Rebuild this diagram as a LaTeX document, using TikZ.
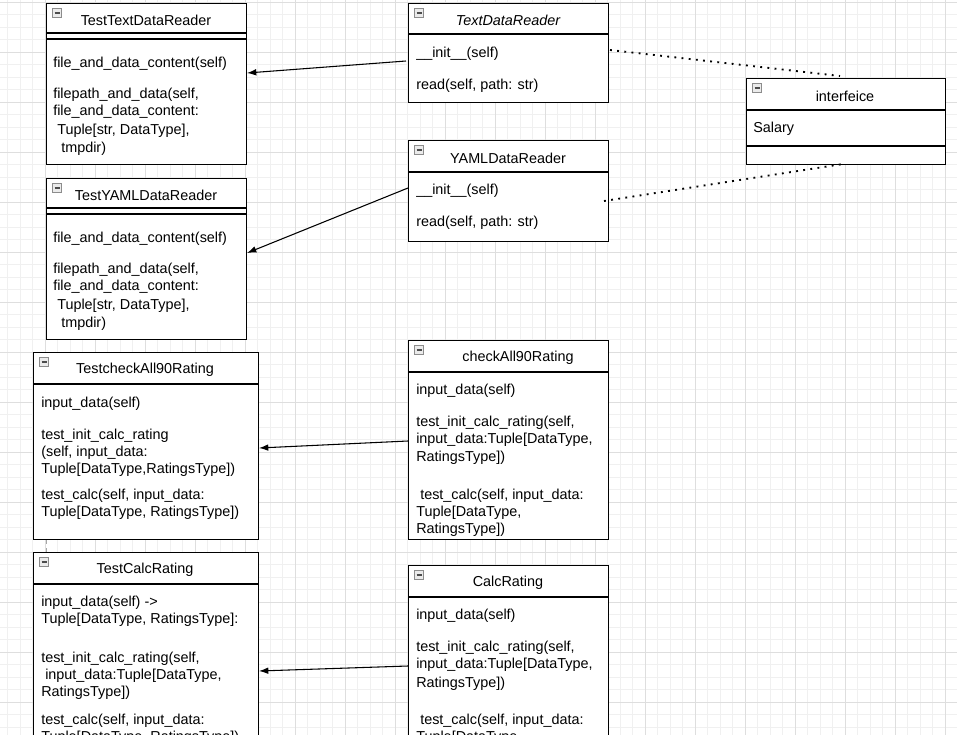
\documentclass[tikz,border=0pt]{standalone}
\usepackage{fontspec}
\setmainfont{Liberation Sans}
\usetikzlibrary{arrows.meta}
\begin{document}
\begin{tikzpicture}[x=0.75pt,y=-0.75pt,
  box/.style={draw=black,line width=0.9pt,fill=white,anchor=north west,inner sep=0pt},
  t/.style={anchor=west,inner sep=0pt,yshift=-1.5pt,font=\fontsize{10.8}{12}\selectfont},
  hdr/.style={anchor=center,inner sep=0pt,yshift=-1.5pt,font=\fontsize{10.8}{12}\selectfont},
  sep/.style={line width=0.9pt},
  arr/.style={-{Latex[length=7pt,width=5pt]},line width=0.8pt},
  dot/.style={line width=1.4pt,dash pattern=on 1.4pt off 4pt}]
\useasboundingbox (0,0) rectangle (957,735);
\fill[white] (0,0) rectangle (957,735);
\foreach \i in {0,...,77} {
  \draw[black!6,line width=0.4pt] (\i*12.5-5,0) -- (\i*12.5-5,735);}
\foreach \i in {0,...,59} {
  \draw[black!6,line width=0.4pt] (0,\i*12.5+2) -- (957,\i*12.5+2);}
\foreach \i in {0,...,19} {
  \draw[black!13,line width=0.5pt] (\i*50-5,0) -- (\i*50-5,735);}
\foreach \i in {0,...,14} {
  \draw[black!13,line width=0.5pt] (0,\i*50+2) -- (957,\i*50+2);}
\draw[black!35,dashed,line width=0.6pt] (46,540) -- (46,735);
\newcommand\ubox[6]{% name x y w h headerbottom
  \node[box,minimum width=#4*0.75pt,minimum height=#5*0.75pt] (#1) at (#2,#3) {};
  \draw[sep] (#2,#6) -- ++(#4,0);
  \fill[black!45] (#2+6,#3+5) rectangle ++(10,10);
  \fill[black!8] (#2+7,#3+6) rectangle ++(8,8);
  \draw[black!70,line width=0.8pt] (#2+8.5,#3+10) -- ++(5,0);}
% TestTextDataReader
\ubox{ttdr}{46}{3}{200}{161}{33}
\draw[sep] (46,39) -- ++(200,0);
\node[hdr] (ttdrh) at (146,18) {TestTextDataReader};
\node[t] (a1) at (53,62) {file\_and\_data\_content(self)};
\node[t] (a2) at (53,93) {filepath\_and\_data(self,};
\node[t] (a3) at (53,110) {file\_and\_data\_content:};
\node[t] (a4) at (53,129) {\ Tuple[str, DataType],};
\node[t] (a5) at (53,147) {\ \ tmpdir)};
% TextDataReader
\ubox{tdr}{408}{3}{200}{99}{34}
\node[hdr] (tdrh) at (508,18) {\itshape TextDataReader};
\node[t] (b1) at (416,52) {\_\_init\_\_(self)};
\node[t] (b2) at (416,84) {read(self, path: str)};
% interfeice
\ubox{intf}{746}{78}{199}{86}{110}
\draw[sep] (746,146) -- ++(199,0);
\node[hdr] (intfh) at (845,94) {interfeice};
\node[t] (c1) at (753,127) {Salary};
% YAMLDataReader
\ubox{ydr}{408}{140}{200}{101}{172}
\node[hdr] (ydrh) at (508,156) {YAMLDataReader};
\node[t] (d1) at (416,189) {\_\_init\_\_(self)};
\node[t] (d2) at (416,221) {read(self, path: str)};
% TestYAMLDataReader
\ubox{tydr}{46}{178}{200}{161}{208}
\draw[sep] (46,214) -- ++(200,0);
\node[hdr] (tydrh) at (146,193) {TestYAMLDataReader};
\node[t] (e1) at (53,237) {file\_and\_data\_content(self)};
\node[t] (e2) at (53,268) {filepath\_and\_data(self,};
\node[t] (e3) at (53,285) {file\_and\_data\_content:};
\node[t] (e4) at (53,304) {\ Tuple[str, DataType],};
\node[t] (e5) at (53,322) {\ \ tmpdir)};
% TestcheckAll90Rating
\ubox{tc90}{33}{352}{225}{187}{384}
\node[hdr] (tc90h) at (145,368) {TestcheckAll90Rating};
\node[t] (f1) at (41,402) {input\_data(self)};
\node[t] (f2) at (41,434) {test\_init\_calc\_rating};
\node[t] (f3) at (41,451) {(self, input\_data:};
\node[t] (f4) at (41,468) {Tuple[DataType,RatingsType])};
\node[t] (f5) at (41,494) {test\_calc(self, input\_data:};
\node[t] (f6) at (41,511) {Tuple[DataType, RatingsType])};
% checkAll90Rating
\ubox{c90}{408}{340}{200}{199}{372}
\node[hdr] (c90h) at (518,356) {checkAll90Rating};
\node[t] (g1) at (416,389) {input\_data(self)};
\node[t] (g2) at (416,421) {test\_init\_calc\_rating(self,};
\node[t] (g3) at (416,438) {input\_data:Tuple[DataType,};
\node[t] (g4) at (416,456) {RatingsType])};
\node[t] (g5) at (416,494) {\ test\_calc(self, input\_data:};
\node[t] (g6) at (416,511) {Tuple[DataType,};
\node[t] (g7) at (416,528) {RatingsType])};
% TestCalcRating
\ubox{tcr}{33}{552}{225}{200}{584}
\node[hdr] (tcrh) at (145,568) {TestCalcRating};
\node[t] (h1) at (41,601) {input\_data(self) ->};
\node[t] (h2) at (41,618) {Tuple[DataType, RatingsType]:};
\node[t] (h3) at (41,657) {test\_init\_calc\_rating(self,};
\node[t] (h4) at (41,674) {\ input\_data:Tuple[DataType,};
\node[t] (h5) at (41,691) {RatingsType])};
\node[t] (h6) at (41,719) {test\_calc(self, input\_data:};
\node[t] (h7) at (41,736) {Tuple[DataType, RatingsType])};
% CalcRating
\ubox{cr}{408}{565}{200}{190}{597}
\node[hdr] (crh) at (508,581) {CalcRating};
\node[t] (k1) at (416,614) {input\_data(self)};
\node[t] (k2) at (416,646) {test\_init\_calc\_rating(self,};
\node[t] (k3) at (416,663) {input\_data:Tuple[DataType,};
\node[t] (k4) at (416,682) {RatingsType])};
\node[t] (k5) at (416,719) {\ test\_calc(self, input\_data:};
\node[t] (k6) at (416,736) {Tuple[DataType,};
% connectors
\coordinate (p1) at (406,61); \coordinate (q1) at (247,73);
\draw[arr] (p1) -- (q1);
\coordinate (p2) at (408,188); \coordinate (q2) at (247,253);
\draw[arr] (p2) -- (q2);
\coordinate (p3) at (408,441); \coordinate (q3) at (259,448);
\draw[arr] (p3) -- (q3);
\coordinate (p4) at (408,666); \coordinate (q4) at (259,671);
\draw[arr] (p4) -- (q4);
\coordinate (r1) at (610,50); \coordinate (s1) at (840,76);
\draw[dot] (r1) -- (s1);
\coordinate (r2) at (604,201); \coordinate (s2) at (843,164);
\draw[dot] (r2) -- (s2);
\end{tikzpicture}
\end{document}
